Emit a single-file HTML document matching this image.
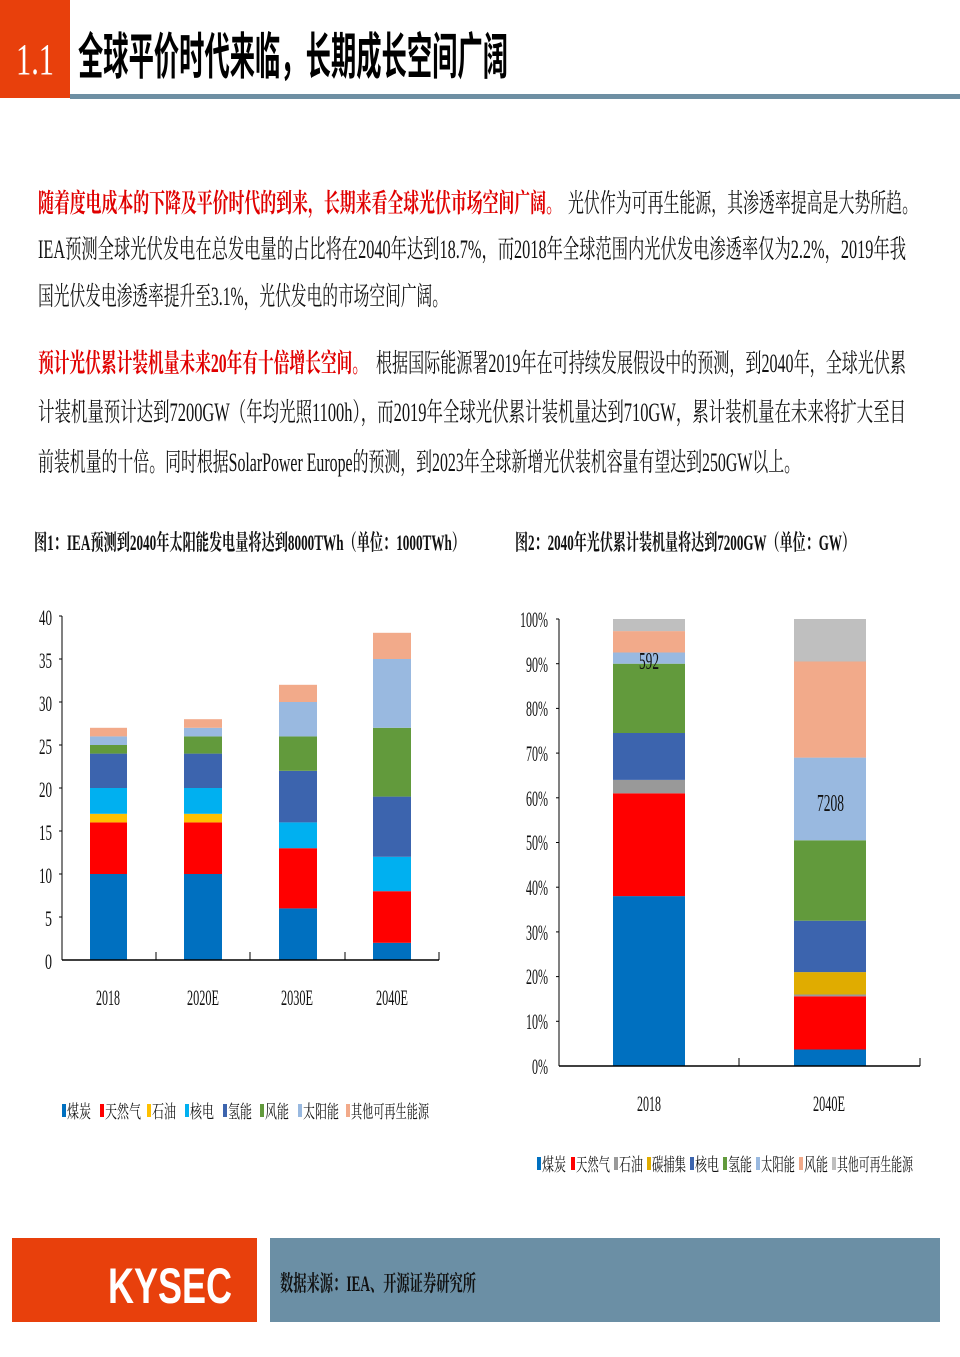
<!DOCTYPE html>
<html><head><meta charset="utf-8"><style>
html,body{margin:0;padding:0;background:#fff;}
svg{display:block;}
text{font-family:"Liberation Serif","Noto Serif CJK SC","Noto Sans CJK SC",serif;}
</style></head><body>
<svg width="960" height="1357" viewBox="0 0 960 1357" xmlns="http://www.w3.org/2000/svg">
<!-- header -->
<rect x="0" y="0" width="70" height="98" fill="#e8400c"/>
<rect x="70" y="94" width="890" height="5" fill="#6e8fa3"/>
<text x="16" y="74" font-size="44" fill="#fff" textLength="38" lengthAdjust="spacingAndGlyphs">1.1</text>
<text x="78" y="74" font-size="50" font-weight="bold" fill="#000" textLength="430" lengthAdjust="spacingAndGlyphs" style="font-family:'Noto Sans CJK SC',sans-serif">全球平价时代来临，长期成长空间广阔</text>

<!-- paragraphs -->
<g font-size="26">
<text x="38" y="212" fill="#e00000" textLength="524" lengthAdjust="spacingAndGlyphs" font-weight="bold">随着度电成本的下降及平价时代的到来，长期来看全球光伏市场空间广阔。</text>
<text x="568" y="212" fill="#111" textLength="350" lengthAdjust="spacingAndGlyphs">光伏作为可再生能源，其渗透率提高是大势所趋。</text>
<text x="38" y="258" fill="#111" textLength="868" lengthAdjust="spacingAndGlyphs">IEA预测全球光伏发电在总发电量的占比将在2040年达到18.7%，而2018年全球范围内光伏发电渗透率仅为2.2%，2019年我</text>
<text x="38" y="305" fill="#111" textLength="410" lengthAdjust="spacingAndGlyphs">国光伏发电渗透率提升至3.1%，光伏发电的市场空间广阔。</text>
<text x="38" y="372" fill="#e00000" textLength="330" lengthAdjust="spacingAndGlyphs" font-weight="bold">预计光伏累计装机量未来20年有十倍增长空间。</text>
<text x="376" y="372" fill="#111" textLength="530" lengthAdjust="spacingAndGlyphs">根据国际能源署2019年在可持续发展假设中的预测，到2040年，全球光伏累</text>
<text x="38" y="421" fill="#111" textLength="868" lengthAdjust="spacingAndGlyphs">计装机量预计达到7200GW（年均光照1100h），而2019年全球光伏累计装机量达到710GW，累计装机量在未来将扩大至目</text>
<text x="38" y="471" fill="#111" textLength="762" lengthAdjust="spacingAndGlyphs">前装机量的十倍。同时根据SolarPower Europe的预测，到2023年全球新增光伏装机容量有望达到250GW以上。</text>
</g>

<!-- chart titles -->
<text x="34" y="550" font-size="22" font-weight="bold" fill="#111" textLength="431" lengthAdjust="spacingAndGlyphs">图1：IEA预测到2040年太阳能发电量将达到8000TWh（单位：1000TWh）</text>
<text x="515" y="550" font-size="22" font-weight="bold" fill="#111" textLength="340" lengthAdjust="spacingAndGlyphs">图2：2040年光伏累计装机量将达到7200GW（单位：GW）</text>

<!-- chart 1 -->
<g>
<rect x="90" y="874" width="37" height="86" fill="#0070c0"/>
<rect x="90" y="822.4" width="37" height="51.6" fill="#ff0000"/>
<rect x="90" y="813.8" width="37" height="8.6" fill="#ffc000"/>
<rect x="90" y="788" width="37" height="25.8" fill="#00b0f0"/>
<rect x="90" y="753.6" width="37" height="34.4" fill="#3c64ae"/>
<rect x="90" y="745" width="37" height="8.6" fill="#629a3c"/>
<rect x="90" y="736.4" width="37" height="8.6" fill="#99b9e0"/>
<rect x="90" y="727.8" width="37" height="8.6" fill="#f2aa8a"/>
<rect x="184" y="874" width="38" height="86" fill="#0070c0"/>
<rect x="184" y="822.4" width="38" height="51.6" fill="#ff0000"/>
<rect x="184" y="813.8" width="38" height="8.6" fill="#ffc000"/>
<rect x="184" y="788" width="38" height="25.8" fill="#00b0f0"/>
<rect x="184" y="753.6" width="38" height="34.4" fill="#3c64ae"/>
<rect x="184" y="736.4" width="38" height="17.2" fill="#629a3c"/>
<rect x="184" y="727.8" width="38" height="8.6" fill="#99b9e0"/>
<rect x="184" y="719.2" width="38" height="8.6" fill="#f2aa8a"/>
<rect x="279" y="908.4" width="38" height="51.6" fill="#0070c0"/>
<rect x="279" y="848.2" width="38" height="60.2" fill="#ff0000"/>
<rect x="279" y="822.4" width="38" height="25.8" fill="#00b0f0"/>
<rect x="279" y="770.8" width="38" height="51.6" fill="#3c64ae"/>
<rect x="279" y="736.4" width="38" height="34.4" fill="#629a3c"/>
<rect x="279" y="702" width="38" height="34.4" fill="#99b9e0"/>
<rect x="279" y="684.8" width="38" height="17.2" fill="#f2aa8a"/>
<rect x="373" y="942.8" width="38" height="17.2" fill="#0070c0"/>
<rect x="373" y="891.2" width="38" height="51.6" fill="#ff0000"/>
<rect x="373" y="856.8" width="38" height="34.4" fill="#00b0f0"/>
<rect x="373" y="796.6" width="38" height="60.2" fill="#3c64ae"/>
<rect x="373" y="727.8" width="38" height="68.8" fill="#629a3c"/>
<rect x="373" y="659" width="38" height="68.8" fill="#99b9e0"/>
<rect x="373" y="632.8" width="38" height="26.2" fill="#f2aa8a"/>
<line x1="62" y1="616" x2="62" y2="960" stroke="#000" stroke-width="1"/>
<line x1="62" y1="960" x2="439" y2="960" stroke="#000" stroke-width="1.5"/>
<g stroke="#000" stroke-width="1">
<line x1="59" y1="616" x2="62" y2="616"/><line x1="59" y1="659" x2="62" y2="659"/><line x1="59" y1="702" x2="62" y2="702"/><line x1="59" y1="745" x2="62" y2="745"/><line x1="59" y1="788" x2="62" y2="788"/><line x1="59" y1="831" x2="62" y2="831"/><line x1="59" y1="874" x2="62" y2="874"/><line x1="59" y1="917" x2="62" y2="917"/>
<line x1="156" y1="952" x2="156" y2="960"/><line x1="250" y1="952" x2="250" y2="960"/><line x1="345" y1="952" x2="345" y2="960"/><line x1="439" y1="952" x2="439" y2="960"/>
</g>
<g font-size="22" fill="#111">
<text x="39" y="625" textLength="13" lengthAdjust="spacingAndGlyphs">40</text>
<text x="39" y="668" textLength="13" lengthAdjust="spacingAndGlyphs">35</text>
<text x="39" y="711" textLength="13" lengthAdjust="spacingAndGlyphs">30</text>
<text x="39" y="754" textLength="13" lengthAdjust="spacingAndGlyphs">25</text>
<text x="39" y="797" textLength="13" lengthAdjust="spacingAndGlyphs">20</text>
<text x="39" y="840" textLength="13" lengthAdjust="spacingAndGlyphs">15</text>
<text x="39" y="883" textLength="13" lengthAdjust="spacingAndGlyphs">10</text>
<text x="45" y="926" textLength="7" lengthAdjust="spacingAndGlyphs">5</text>
<text x="45" y="969" textLength="7" lengthAdjust="spacingAndGlyphs">0</text>
</g>
<g font-size="22" fill="#111">
<text x="96" y="1005" textLength="24" lengthAdjust="spacingAndGlyphs">2018</text>
<text x="187" y="1005" textLength="32" lengthAdjust="spacingAndGlyphs">2020E</text>
<text x="281" y="1005" textLength="32" lengthAdjust="spacingAndGlyphs">2030E</text>
<text x="376" y="1005" textLength="32" lengthAdjust="spacingAndGlyphs">2040E</text>
</g>
<g font-size="18" fill="#111">
<rect x="62" y="1104" width="4" height="13" fill="#0070c0"/><text x="67" y="1118" textLength="24" lengthAdjust="spacingAndGlyphs">煤炭</text>
<rect x="100" y="1104" width="4" height="13" fill="#ff0000"/><text x="105" y="1118" textLength="36" lengthAdjust="spacingAndGlyphs">天然气</text>
<rect x="147" y="1104" width="4" height="13" fill="#ffc000"/><text x="152" y="1118" textLength="24" lengthAdjust="spacingAndGlyphs">石油</text>
<rect x="185" y="1104" width="4" height="13" fill="#00b0f0"/><text x="190" y="1118" textLength="24" lengthAdjust="spacingAndGlyphs">核电</text>
<rect x="223" y="1104" width="4" height="13" fill="#3c64ae"/><text x="228" y="1118" textLength="24" lengthAdjust="spacingAndGlyphs">氢能</text>
<rect x="260" y="1104" width="4" height="13" fill="#629a3c"/><text x="265" y="1118" textLength="24" lengthAdjust="spacingAndGlyphs">风能</text>
<rect x="298" y="1104" width="4" height="13" fill="#99b9e0"/><text x="303" y="1118" textLength="36" lengthAdjust="spacingAndGlyphs">太阳能</text>
<rect x="346" y="1104" width="4" height="13" fill="#f2aa8a"/><text x="351" y="1118" textLength="78" lengthAdjust="spacingAndGlyphs">其他可再生能源</text>
</g>
</g>

<!-- chart 2 -->
<g>
<rect x="613" y="896.1" width="72" height="169.9" fill="#0070c0"/>
<rect x="613" y="793.3" width="72" height="102.8" fill="#ff0000"/>
<rect x="613" y="779.9" width="72" height="13.4" fill="#999999"/>
<rect x="613" y="733" width="72" height="46.9" fill="#3c64ae"/>
<rect x="613" y="663.7" width="72" height="69.3" fill="#629a3c"/>
<rect x="613" y="652.5" width="72" height="11.2" fill="#99b9e0"/>
<rect x="613" y="631.1" width="72" height="21.4" fill="#f2aa8a"/>
<rect x="613" y="619" width="72" height="12.1" fill="#bfbfbf"/>
<rect x="794" y="1049.5" width="72" height="16.5" fill="#0070c0"/>
<rect x="794" y="996.3" width="72" height="53.2" fill="#ff0000"/>
<rect x="794" y="994.5" width="72" height="1.8" fill="#999999"/>
<rect x="794" y="972.1" width="72" height="22.4" fill="#e0ac00"/>
<rect x="794" y="920.7" width="72" height="51.4" fill="#3c64ae"/>
<rect x="794" y="840.3" width="72" height="80.4" fill="#629a3c"/>
<rect x="794" y="757.6" width="72" height="82.7" fill="#99b9e0"/>
<rect x="794" y="661.5" width="72" height="96.1" fill="#f2aa8a"/>
<rect x="794" y="619" width="72" height="42.5" fill="#bfbfbf"/>
<text x="639" y="669" font-size="24" fill="#111" textLength="20" lengthAdjust="spacingAndGlyphs">592</text>
<text x="817" y="811" font-size="24" fill="#111" textLength="27" lengthAdjust="spacingAndGlyphs">7208</text>
<line x1="559" y1="619" x2="559" y2="1066" stroke="#000" stroke-width="1"/>
<line x1="559" y1="1066" x2="920" y2="1066" stroke="#000" stroke-width="1.5"/>
<g stroke="#000" stroke-width="1">
<line x1="556" y1="619" x2="559" y2="619"/><line x1="556" y1="663.7" x2="559" y2="663.7"/><line x1="556" y1="708.4" x2="559" y2="708.4"/><line x1="556" y1="753.1" x2="559" y2="753.1"/><line x1="556" y1="797.8" x2="559" y2="797.8"/><line x1="556" y1="842.5" x2="559" y2="842.5"/><line x1="556" y1="887.2" x2="559" y2="887.2"/><line x1="556" y1="931.9" x2="559" y2="931.9"/><line x1="556" y1="976.6" x2="559" y2="976.6"/><line x1="556" y1="1021.3" x2="559" y2="1021.3"/>
<line x1="739" y1="1058" x2="739" y2="1066"/><line x1="920" y1="1058" x2="920" y2="1066"/>
</g>
<g font-size="22" fill="#111">
<text x="520" y="627" textLength="28" lengthAdjust="spacingAndGlyphs">100%</text>
<text x="526" y="672" textLength="22" lengthAdjust="spacingAndGlyphs">90%</text>
<text x="526" y="716" textLength="22" lengthAdjust="spacingAndGlyphs">80%</text>
<text x="526" y="761" textLength="22" lengthAdjust="spacingAndGlyphs">70%</text>
<text x="526" y="806" textLength="22" lengthAdjust="spacingAndGlyphs">60%</text>
<text x="526" y="850" textLength="22" lengthAdjust="spacingAndGlyphs">50%</text>
<text x="526" y="895" textLength="22" lengthAdjust="spacingAndGlyphs">40%</text>
<text x="526" y="940" textLength="22" lengthAdjust="spacingAndGlyphs">30%</text>
<text x="526" y="984" textLength="22" lengthAdjust="spacingAndGlyphs">20%</text>
<text x="526" y="1029" textLength="22" lengthAdjust="spacingAndGlyphs">10%</text>
<text x="532" y="1074" textLength="16" lengthAdjust="spacingAndGlyphs">0%</text>
</g>
<g font-size="22" fill="#111">
<text x="637" y="1111" textLength="24" lengthAdjust="spacingAndGlyphs">2018</text>
<text x="813" y="1111" textLength="32" lengthAdjust="spacingAndGlyphs">2040E</text>
</g>
<g font-size="18" fill="#111">
<rect x="537" y="1157" width="4" height="13" fill="#0070c0"/><text x="542" y="1171" textLength="24" lengthAdjust="spacingAndGlyphs">煤炭</text>
<rect x="571" y="1157" width="4" height="13" fill="#ff0000"/><text x="576" y="1171" textLength="34" lengthAdjust="spacingAndGlyphs">天然气</text>
<rect x="614" y="1157" width="4" height="13" fill="#999999"/><text x="619" y="1171" textLength="24" lengthAdjust="spacingAndGlyphs">石油</text>
<rect x="647" y="1157" width="4" height="13" fill="#e0ac00"/><text x="652" y="1171" textLength="34" lengthAdjust="spacingAndGlyphs">碳捕集</text>
<rect x="690" y="1157" width="4" height="13" fill="#3c64ae"/><text x="695" y="1171" textLength="24" lengthAdjust="spacingAndGlyphs">核电</text>
<rect x="723" y="1157" width="4" height="13" fill="#629a3c"/><text x="728" y="1171" textLength="24" lengthAdjust="spacingAndGlyphs">氢能</text>
<rect x="756" y="1157" width="4" height="13" fill="#99b9e0"/><text x="761" y="1171" textLength="34" lengthAdjust="spacingAndGlyphs">太阳能</text>
<rect x="799" y="1157" width="4" height="13" fill="#f2aa8a"/><text x="804" y="1171" textLength="24" lengthAdjust="spacingAndGlyphs">风能</text>
<rect x="832" y="1157" width="4" height="13" fill="#bfbfbf"/><text x="837" y="1171" textLength="76" lengthAdjust="spacingAndGlyphs">其他可再生能源</text>
</g>
</g>

<!-- footer -->
<rect x="12" y="1238" width="245" height="84" fill="#e8400c"/>
<rect x="270" y="1238" width="670" height="84" fill="#6b8fa5"/>
<text x="108" y="1303" font-size="50" font-weight="bold" fill="#fff" textLength="124" lengthAdjust="spacingAndGlyphs" style="font-family:'Liberation Sans',sans-serif">KYSEC</text>
<text x="280" y="1291" font-size="22" font-weight="bold" fill="#111" textLength="196" lengthAdjust="spacingAndGlyphs">数据来源：IEA、开源证券研究所</text>
</svg>
</body></html>
